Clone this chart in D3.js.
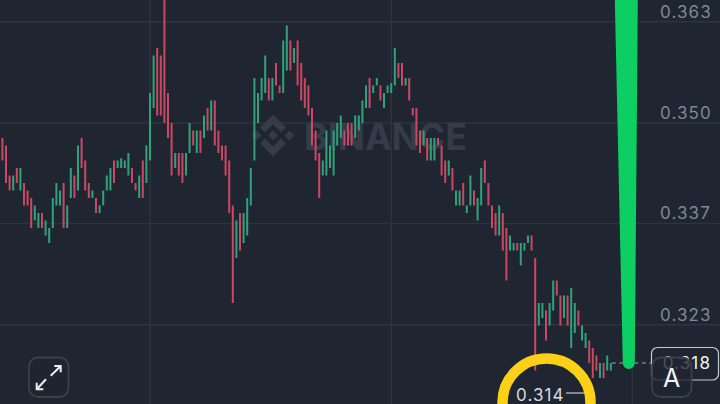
<!DOCTYPE html>
<html>
    <head>
        <meta charset="utf-8">
        <title>Binance chart</title>
        <style>
        body{
            background-color:#1f2631;
            padding:0;
            margin:0;
            overflow:hidden;
        }
        svg{
            display:block;
        }
        </style>
    </head>
    <body>
        <svg id="image" width="720" height="404"></svg>
        <script src="https://d3js.org/d3.v7.min.js"></script>
        <script>
        // one bar per period
        var barHigh = [
            0.348,0.347,0.343,0.343,0.344,0.344,0.342,0.341,0.340,0.339,
            0.338,0.338,0.337,0.336,0.340,0.342,0.341,0.342,0.339,0.344,
            0.343,0.347,0.348,0.345,0.342,0.341,0.340,0.339,0.341,0.343,
            0.344,0.345,0.345,0.3453,0.345,0.346,0.344,0.342,0.343,0.345,
            0.347,0.354,0.359,0.360,0.359,0.367,0.354,0.350,0.346,0.346,
            0.346,0.346,0.350,0.349,0.349,0.349,0.351,0.352,0.353,0.353,
            0.349,0.347,0.347,0.345,0.339,0.337,0.338,0.338,0.340,0.344,
            0.356,0.354,0.356,0.359,0.356,0.356,0.358,0.355,0.361,0.363,
            0.361,0.360,0.361,0.358,0.356,0.355,0.352,0.349,0.346,0.345,
            0.349,0.347,0.349,0.350,0.351,0.349,0.350,0.350,0.351,0.351,
            0.353,0.355,0.356,0.355,0.356,0.355,0.354,0.355,0.3553,0.360,
            0.358,0.358,0.356,0.356,0.352,0.352,0.349,0.349,0.348,0.348,
            0.348,0.348,0.347,0.345,0.345,0.344,0.341,0.341,0.342,0.339,
            0.343,0.341,0.340,0.344,0.345,0.342,0.339,0.338,0.339,0.338,
            0.336,0.335,0.334,0.334,0.334,0.334,0.335,0.335,0.332,0.326,
            0.326,0.325,0.326,0.329,0.329,0.327,0.327,0.327,0.328,0.326,
            0.325,0.323,0.322,0.321,0.320,0.319,0.318,0.318,0.319,0.318
        ];
        var barLow = [
            0.345,0.342,0.341,0.341,0.342,0.341,0.339,0.339,0.336,0.337,
            0.336,0.336,0.335,0.334,0.336,0.339,0.339,0.336,0.336,0.340,
            0.340,0.341,0.344,0.341,0.340,0.340,0.338,0.338,0.339,0.341,
            0.341,0.342,0.344,0.344,0.344,0.343,0.342,0.341,0.340,0.340,
            0.342,0.345,0.352,0.351,0.351,0.350,0.348,0.343,0.344,0.343,
            0.342,0.343,0.346,0.347,0.346,0.346,0.348,0.349,0.349,0.347,
            0.346,0.345,0.343,0.338,0.326,0.332,0.333,0.334,0.335,0.339,
            0.345,0.350,0.353,0.354,0.353,0.353,0.355,0.354,0.354,0.357,
            0.357,0.358,0.355,0.353,0.352,0.351,0.347,0.345,0.340,0.343,
            0.343,0.344,0.343,0.347,0.348,0.347,0.347,0.347,0.348,0.349,
            0.350,0.352,0.352,0.354,0.355,0.353,0.352,0.354,0.354,0.355,
            0.356,0.355,0.355,0.353,0.351,0.347,0.346,0.347,0.345,0.345,
            0.345,0.347,0.343,0.342,0.343,0.341,0.339,0.339,0.339,0.338,
            0.339,0.339,0.337,0.339,0.342,0.339,0.336,0.335,0.335,0.333,
            0.329,0.333,0.333,0.333,0.331,0.333,0.334,0.333,0.317,0.323,
            0.324,0.321,0.323,0.325,0.327,0.323,0.324,0.323,0.320,0.322,
            0.323,0.321,0.320,0.318,0.316,0.317,0.316,0.316,0.317,0.317
        ];
        // 1 = green bar, 0 = red bar
        var barUp = [
            0,0,0,1,0,1,0,0,0,1,
            1,0,1,1,1,1,1,0,1,1,
            0,1,0,0,0,1,0,1,1,1,
            1,0,1,1,1,1,0,0,1,0,
            1,1,1,0,0,0,0,0,1,0,
            0,1,1,0,1,0,1,0,1,0,
            0,0,0,0,0,1,0,1,1,1,
            1,1,1,1,0,1,0,0,1,1,
            0,1,0,0,0,0,0,0,0,1,
            1,1,1,1,1,0,0,0,1,1,
            1,1,0,1,1,0,1,1,1,1,
            0,0,1,0,0,0,0,1,0,1,
            1,0,0,0,1,0,1,1,0,1,
            1,0,1,1,0,0,0,0,1,0,
            0,1,1,0,1,1,1,0,0,1,
            1,0,1,1,0,0,1,0,1,1,
            0,1,1,0,0,0,1,0,1,1
        ];

        var priceTicks = [0.3635, 0.3500, 0.3366, 0.3231];
        var priceLabels = ["0.363", "0.350", "0.337", "0.323"];
        var timeTicks = [41, 108, 175];

        var lastPrice = 0.318;
        var lowPrice = 0.314;
        var lowLabel = "0.314";
        var spikeIndex = 174;
        var spikeTop = 0.3665;
        var lastIndex = barHigh.length - 1;

        var width = 720;
        var height = 404;
        var svg = d3.select("#image");

        var x = d3.scaleLinear().domain([0, 175]).range([2.4, 632.4]);
        var y = d3.scaleLinear().domain([0.350, 0.318]).range([123, 363]);

        // grid
        var grid = svg.append("g").attr("stroke", "#2e343f").attr("stroke-width", 1.5);
        grid.selectAll(".h").data(priceTicks).enter().append("line")
            .attr("class", "h")
            .attr("x1", 0).attr("x2", width)
            .attr("y1", function(d) { return y(d); })
            .attr("y2", function(d) { return y(d); });
        grid.selectAll(".v").data(timeTicks).enter().append("line")
            .attr("class", "v")
            .attr("y1", 0).attr("y2", height)
            .attr("x1", function(d) { return x(d); })
            .attr("x2", function(d) { return x(d); });

        // watermark
        var mark = svg.append("g").attr("fill", "#353b47");
        function diamond(cx, cy, r) {
            return "M" + cx + "," + (cy - r) + "L" + (cx + r) + "," + cy + "L" + cx + "," + (cy + r) + "L" + (cx - r) + "," + cy + "Z";
        }
        mark.append("path").attr("d", diamond(273, 135.5, 5));
        mark.append("path").attr("d", diamond(256.5, 135.5, 5));
        mark.append("path").attr("d", diamond(289.5, 135.5, 5));
        mark.append("path").attr("d", "M273,114.5L286,127.5L281,132.5L273,124.5L265,132.5L260,127.5Z");
        mark.append("path").attr("d", "M273,156.5L286,143.5L281,138.5L273,146.5L265,138.5L260,143.5Z");
        mark.append("text")
            .attr("x", 304).attr("y", 150)
            .attr("font-family", "Inter")
            .attr("font-weight", 700)
            .attr("font-size", 37)
            .attr("textLength", 163)
            .attr("lengthAdjust", "spacingAndGlyphs")
            .text("BINANCE");

        // bars
        svg.append("g").selectAll("rect").data(barHigh).enter().append("rect")
            .attr("x", function(d, i) { return x(i) - 1; })
            .attr("width", 2)
            .attr("y", function(d) { return y(d); })
            .attr("height", function(d, i) { return y(barLow[i]) - y(d); })
            .attr("fill", function(d, i) { return barUp[i] ? "#2fa27c" : "#cb4762"; });

        // price labels on the right
        var axis = d3.axisRight(y)
            .tickValues(priceTicks)
            .tickSize(0)
            .tickFormat(function(d, i) { return priceLabels[i]; });
        var axisG = svg.append("g").attr("transform", "translate(660,-10)").call(axis);
        axisG.select(".domain").remove();
        axisG.selectAll("text")
            .attr("x", 0)
            .attr("fill", "#808894")
            .attr("font-family", "Inter")
            .attr("font-size", 17)
            .attr("letter-spacing", 1.1);

        // dashed last price line
        svg.append("line")
            .attr("x1", x(lastIndex) + 1).attr("x2", 652)
            .attr("y1", y(lastPrice)).attr("y2", y(lastPrice))
            .attr("stroke", "#a3a8b0")
            .attr("stroke-width", 1.2)
            .attr("stroke-dasharray", "4,3.5");

        // big green spike
        var bx = x(spikeIndex);
        var by = y(lastPrice);
        var ty = y(spikeTop);
        svg.append("path")
            .attr("d", "M" + (bx - 14) + "," + ty + "L" + (bx - 6) + "," + by
                + "A6,6 0 0 0 " + (bx + 6) + "," + by
                + "L" + (bx + 9) + "," + ty + "Z")
            .attr("fill", "#0dce62");

        // last price tag
        svg.append("rect")
            .attr("x", 651.5).attr("y", 347.5)
            .attr("width", 67).attr("height", 32.5).attr("rx", 6)
            .attr("fill", "#1f2631")
            .attr("stroke", "#c4c8cf").attr("stroke-width", 1.2);
        svg.append("text")
            .attr("x", 711).attr("y", y(lastPrice) + 6)
            .attr("text-anchor", "end")
            .attr("fill", "#f2f3f5")
            .attr("font-family", "Inter")
            .attr("font-size", 17)
            .attr("letter-spacing", 1.1)
            .text(lastPrice.toFixed(3));

        // buttons
        function button(bx0) {
            svg.append("rect")
                .attr("x", bx0).attr("y", 357.5)
                .attr("width", 39.5).attr("height", 39.5).attr("rx", 9)
                .attr("fill", "#1f2631").attr("fill-opacity", 0.8)
                .attr("stroke", "#3a404c").attr("stroke-width", 1.8);
        }
        button(29);
        button(652);
        svg.append("text")
            .attr("x", 671.5).attr("y", 387)
            .attr("text-anchor", "middle")
            .attr("fill", "#f2f3f5")
            .attr("font-family", "Inter")
            .attr("font-size", 25)
            .text("A");
        svg.append("path")
            .attr("d", "M50.7,375.7L60.7,366M54.3,366H60.7V372.3M46,379.3L36.7,389.3M36.7,382.7V389.3H43.3")
            .attr("fill", "none")
            .attr("stroke", "#eceef1")
            .attr("stroke-width", 2);

        // lowest price label with its circle
        svg.append("line")
            .attr("x1", 566).attr("x2", 588)
            .attr("y1", y(lowPrice)).attr("y2", y(lowPrice))
            .attr("stroke", "#a3a8b0").attr("stroke-width", 1.5);
        svg.append("text")
            .attr("x", 516).attr("y", y(lowPrice) + 8)
            .attr("fill", "#d8dbe0")
            .attr("font-family", "Inter")
            .attr("font-size", 17)
            .attr("letter-spacing", 1.1)
            .text(lowLabel);
        svg.append("circle")
            .attr("cx", 546.5).attr("cy", 402.5).attr("r", 44)
            .attr("fill", "none")
            .attr("stroke", "#fbd016")
            .attr("stroke-width", 10.5);
        </script>
    </body>
</html>
